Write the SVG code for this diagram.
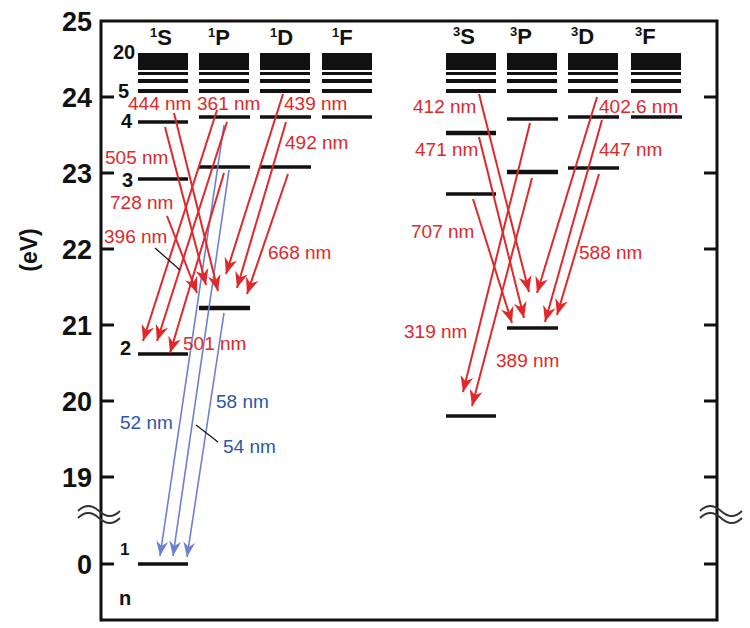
<svg xmlns="http://www.w3.org/2000/svg" width="750" height="628" viewBox="0 0 750 628">
<style>
.ax{font-family:"Liberation Sans",Arial,sans-serif;font-weight:bold;font-size:27px;fill:#111}
.nl{font-family:"Liberation Sans",Arial,sans-serif;font-weight:bold;font-size:20px;fill:#111}
.hd{font-family:"Liberation Sans",Arial,sans-serif;font-weight:bold;font-size:22px;fill:#111}
.sup{font-size:13px}
.rl{font-family:"Liberation Sans",Arial,sans-serif;font-size:19px;fill:#e0282a}
.bl{font-family:"Liberation Sans",Arial,sans-serif;font-size:19px;fill:#2b58a8}
.lv{stroke:#111;stroke-width:3.5}
.lvt{stroke:#111;stroke-width:4.5}
.fr{fill:none;stroke:#111;stroke-width:3}
.tk{stroke:#111;stroke-width:3}
.ra{stroke:#e0282a;stroke-width:2;fill:none;marker-end:url(#ar)}
.ba{stroke:#6f7fd0;stroke-width:1.6;fill:none;marker-end:url(#ab)}
.ld{stroke:#111;stroke-width:1.2}
.wv{fill:none;stroke:#333;stroke-width:1.8}
</style>
<defs>
<marker id="ar" markerUnits="userSpaceOnUse" markerWidth="20" markerHeight="16" viewBox="-17 -8 18 16" refX="0" refY="0" orient="auto">
<path d="M0,0 L-16,-6.5 L-11,0 L-16,6.5 Z" fill="#e0282a"/>
</marker>
<marker id="ab" markerUnits="userSpaceOnUse" markerWidth="20" markerHeight="16" viewBox="-17 -8 18 16" refX="0" refY="0" orient="auto">
<path d="M0,0 L-15,-6 L-10,0 L-15,6 Z" fill="#6f7fd0"/>
</marker>
<g id="band">
<rect x="0" y="53" width="50" height="17" fill="#111"/>
<rect x="0" y="72" width="50" height="3" fill="#111"/>
<rect x="0" y="79" width="50" height="4" fill="#111"/>
<rect x="0" y="89" width="50" height="4" fill="#111"/>
</g>
</defs>
<rect width="750" height="628" fill="#fff"/>

<g id="axes">
<path class="fr" d="M101,21 H717 V620 H101 Z"/>
<path class="tk" d="M101,97 H114 M101,173 H114 M101,249 H114 M101,325 H114 M101,401 H114 M101,477 H114 M101,564 H114"/>
<path class="tk" d="M704,97 H717 M704,173 H717 M704,249 H717 M704,325 H717 M704,401 H717 M704,477 H717 M704,564 H717"/>
<path class="wv" d="M78,511 q10,-10 21,0 t21,0"/>
<path class="wv" d="M78,518 q10,-10 21,0 t21,0"/>
<path class="wv" d="M700,511 q10,-10 21,0 t21,0"/>
<path class="wv" d="M700,518 q10,-10 21,0 t21,0"/>
<g text-anchor="end">
<text class="ax" x="92" y="31">25</text>
<text class="ax" x="92" y="107">24</text>
<text class="ax" x="92" y="183">23</text>
<text class="ax" x="92" y="259">22</text>
<text class="ax" x="92" y="335">21</text>
<text class="ax" x="92" y="411">20</text>
<text class="ax" x="92" y="487">19</text>
<text class="ax" x="92" y="574">0</text>
</g>
<text class="ax" style="font-size:23px" transform="translate(37,250) rotate(-90)" text-anchor="middle">(eV)</text>
</g>

<g id="n-labels">
<text class="nl" x="113" y="59">20</text>
<text class="nl" x="118" y="98">5</text>
<text class="nl" x="121" y="128">4</text>
<text class="nl" x="122" y="187">3</text>
<text class="nl" x="120" y="355">2</text>
<text class="nl" x="120" y="555" style="font-size:17px">1</text>
<text class="nl" x="119" y="605">n</text>
</g>

<g id="headers">
<text class="hd" x="150" y="45"><tspan class="sup" dy="-8">1</tspan><tspan dy="8">S</tspan></text>
<text class="hd" x="208" y="45"><tspan class="sup" dy="-8">1</tspan><tspan dy="8">P</tspan></text>
<text class="hd" x="270" y="45"><tspan class="sup" dy="-8">1</tspan><tspan dy="8">D</tspan></text>
<text class="hd" x="332" y="45"><tspan class="sup" dy="-8">1</tspan><tspan dy="8">F</tspan></text>
<text class="hd" x="453" y="44"><tspan class="sup" dy="-8">3</tspan><tspan dy="8">S</tspan></text>
<text class="hd" x="510" y="44"><tspan class="sup" dy="-8">3</tspan><tspan dy="8">P</tspan></text>
<text class="hd" x="571" y="44"><tspan class="sup" dy="-8">3</tspan><tspan dy="8">D</tspan></text>
<text class="hd" x="635" y="44"><tspan class="sup" dy="-8">3</tspan><tspan dy="8">F</tspan></text>
</g>

<g id="singlet-S">
<use href="#band" x="138"/>
<g id="S1-n4"><line class="lv" x1="138" y1="122" x2="188" y2="122"/></g>
<g id="S1-n3"><line class="lv" x1="138" y1="179" x2="188" y2="179"/></g>
<g id="S1-n2"><line class="lv" x1="138" y1="354" x2="188" y2="354"/></g>
<g id="S1-n1"><line class="lv" x1="138" y1="564" x2="188" y2="564"/></g>
</g>
<g id="singlet-P">
<use href="#band" x="199"/>
<g id="P1-n4"><line class="lv" x1="199" y1="117" x2="250" y2="117"/></g>
<g id="P1-n3"><line class="lv" x1="199" y1="167" x2="250" y2="167"/></g>
<g id="P1-n2"><line class="lvt" x1="199" y1="308" x2="250" y2="308"/></g>
</g>
<g id="singlet-D">
<use href="#band" x="260"/>
<g id="D1-n4"><line class="lv" x1="260" y1="117" x2="311" y2="117"/></g>
<g id="D1-n3"><line class="lv" x1="260" y1="167" x2="311" y2="167"/></g>
</g>
<g id="singlet-F">
<use href="#band" x="322"/>
<g id="F1-n4"><line class="lv" x1="322" y1="117" x2="372" y2="117"/></g>
</g>
<g id="triplet-S">
<use href="#band" x="446"/>
<g id="S3-n4"><line class="lvt" x1="446" y1="133" x2="496" y2="133"/></g>
<g id="S3-n3"><line class="lv" x1="446" y1="194" x2="496" y2="194"/></g>
<g id="S3-n2"><line class="lv" x1="446" y1="416" x2="496" y2="416"/></g>
</g>
<g id="triplet-P">
<use href="#band" x="507"/>
<g id="P3-n4"><line class="lv" x1="507" y1="119" x2="558" y2="119"/></g>
<g id="P3-n3"><line class="lvt" x1="507" y1="172" x2="558" y2="172"/></g>
<g id="P3-n2"><line class="lv" x1="507" y1="328" x2="558" y2="328"/></g>
</g>
<g id="triplet-D">
<use href="#band" x="568"/>
<g id="D3-n4"><line class="lv" x1="568" y1="117" x2="619" y2="117"/></g>
<g id="D3-n3"><line class="lv" x1="568" y1="168" x2="619" y2="168"/></g>
</g>
<g id="triplet-F">
<use href="#band" x="631"/>
<g id="F3-n4"><line class="lv" x1="631" y1="117" x2="682" y2="117"/></g>
</g>

<g id="connectors">
<line class="ba" x1="224" y1="125" x2="160" y2="556"/>
<line class="ba" x1="229" y1="170" x2="173" y2="556"/>
<line class="ba" x1="224" y1="313" x2="187" y2="557"/>
<line class="ra" x1="174" y1="113" x2="218" y2="291"/>
<line class="ra" x1="165" y1="127" x2="206" y2="285"/>
<line class="ra" x1="167" y1="216" x2="197" y2="293"/>
<line class="ra" x1="283" y1="94" x2="226" y2="274"/>
<line class="ra" x1="286" y1="122" x2="237" y2="288"/>
<line class="ra" x1="288" y1="174" x2="247" y2="294"/>
<line class="ra" x1="217" y1="110" x2="143" y2="341"/>
<line class="ra" x1="227" y1="122" x2="157" y2="341"/>
<line class="ra" x1="224" y1="173" x2="170" y2="353"/>
<line class="ra" x1="479" y1="94" x2="529" y2="292"/>
<line class="ra" x1="479" y1="137" x2="524" y2="318"/>
<line class="ra" x1="473" y1="199" x2="512" y2="323"/>
<line class="ra" x1="597" y1="97" x2="537" y2="293"/>
<line class="ra" x1="602" y1="120" x2="545" y2="322"/>
<line class="ra" x1="599" y1="174" x2="557" y2="315"/>
<line class="ra" x1="530" y1="123" x2="463" y2="392"/>
<line class="ra" x1="532" y1="178" x2="472" y2="406"/>
<line class="ld" x1="155" y1="248" x2="180" y2="270"/>
<line class="ld" x1="196" y1="425" x2="218" y2="442"/>
</g>

<g id="labels">
<text class="rl" x="128" y="110">444 nm</text>
<text class="rl" x="197" y="110">361 nm</text>
<text class="rl" x="284" y="110">439 nm</text>
<text class="rl" x="105" y="164">505 nm</text>
<text class="rl" x="285" y="149">492 nm</text>
<text class="rl" x="110" y="209">728 nm</text>
<text class="rl" x="104" y="243">396 nm</text>
<text class="rl" x="268" y="259">668 nm</text>
<text class="rl" x="183" y="350">501 nm</text>
<text class="bl" x="120" y="429">52 nm</text>
<text class="bl" x="216" y="408">58 nm</text>
<text class="bl" x="223" y="453">54 nm</text>
<text class="rl" x="413" y="113">412 nm</text>
<text class="rl" x="599" y="113">402.6 nm</text>
<text class="rl" x="415" y="156">471 nm</text>
<text class="rl" x="599" y="156">447 nm</text>
<text class="rl" x="411" y="238">707 nm</text>
<text class="rl" x="579" y="259">588 nm</text>
<text class="rl" x="404" y="338">319 nm</text>
<text class="rl" x="496" y="367">389 nm</text>
</g>
</svg>
